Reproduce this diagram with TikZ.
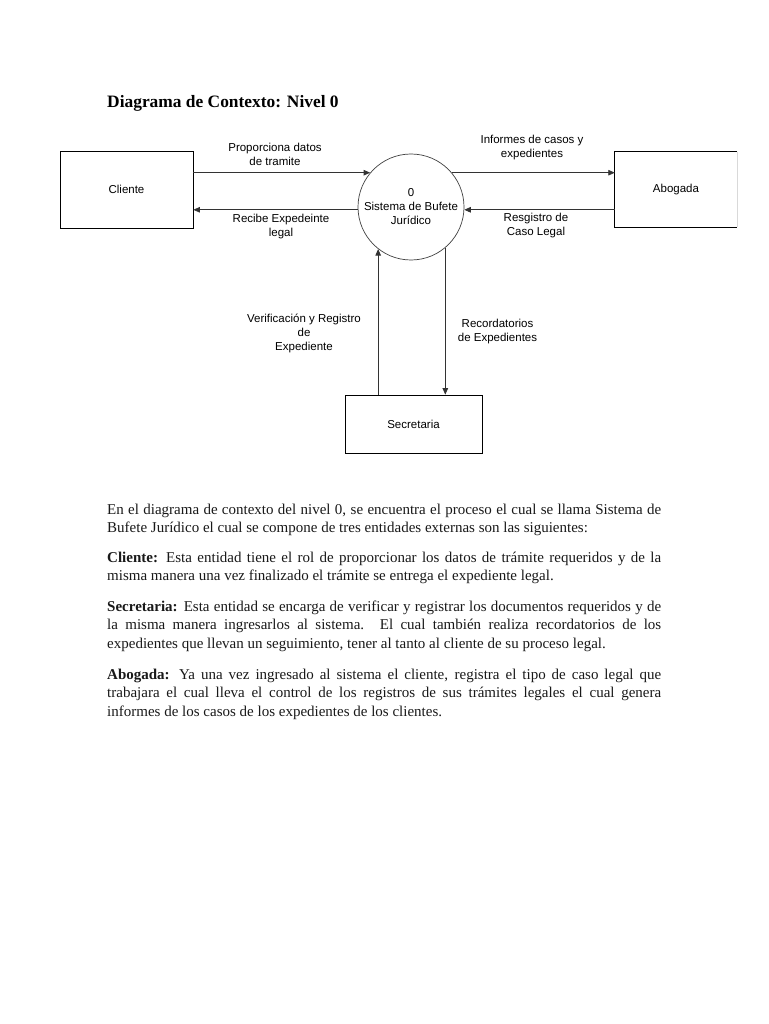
\documentclass[tikz,border=0pt]{standalone}
\usepackage{fontspec}
\setmainfont{Liberation Serif}
\newfontfamily\diafont{Liberation Sans}
\usetikzlibrary{arrows.meta}
\newcommand{\justline}[1]{\makebox[554pt][s]{#1}}
\tikzset{
  entity/.style={draw=black, line width=0.7pt, inner sep=0pt, font=\diafont\fontsize{11.5pt}{14pt}\selectfont},
  process/.style={circle, draw=black!75, line width=0.7pt, inner sep=0pt, minimum size=106pt, align=center, font=\diafont\fontsize{11.5pt}{14pt}\selectfont},
  flow/.style={draw=black!80, line width=0.8pt, -{Triangle[length=6.5pt,width=5.5pt]}},
  flowlabel/.style={align=center, inner sep=0pt, font=\diafont\fontsize{11.5pt}{14pt}\selectfont, text=black},
  bodyline/.style={anchor=base west, inner sep=0pt, font=\fontsize{15pt}{18.5pt}\selectfont, text=black!90},
}
\begin{document}
\begin{tikzpicture}[x=1pt,y=-1pt]
\useasboundingbox[fill=white] (0,0) rectangle (768,1024);

% title
\node[anchor=base west, inner sep=0pt, font=\bfseries\fontsize{17.4pt}{20pt}\selectfont] (title) at (107,108) {Diagrama de Contexto: Nivel 0};

% entities
\node[entity, minimum width=133pt, minimum height=77pt] (cliente) at (126.5,189.5) {Cliente};
\node[inner sep=0pt, minimum width=122pt, minimum height=75pt, font=\diafont\fontsize{11.5pt}{14pt}\selectfont] (abogada) at (676,189.5) {Abogada};
\draw[black, line width=0.7pt] (abogada.north east) -- (abogada.north west) -- (abogada.south west) -- (abogada.south east);
\draw[black!15, line width=0.7pt] (abogada.north east) -- (abogada.south east);
\node[entity, minimum width=137pt, minimum height=58pt] (secretaria) at (413.5,424) {Secretaria};

% process
\node[process] (proc) at (411,207) {0\\Sistema de Bufete\\Jurídico};

% flows
\draw[flow] (cliente.east |- proc.140) -- (proc.140);
\draw[flow] (proc.183) -- (cliente.east |- proc.183);
\draw[flow] (proc.40) -- (abogada.west |- proc.40);
\draw[flow] (abogada.west |- proc.-3) -- (proc.-3);
\draw[flow] (secretaria.north -| proc.232) -- (proc.232);
\draw[flow] (proc.310) -- (secretaria.north -| proc.310);

% flow labels
\node[flowlabel] (l-prop) at (275,154.5) {Proporciona datos\\de tramite};
\node[flowlabel] (l-recibe) at (281,226.5) {Recibe Expedeinte\\legal};
\node[flowlabel] (l-inf) at (532,147.5) {Informes de casos y\\expedientes};
\node[flowlabel] (l-reg) at (536,226) {Resgistro de\\Caso Legal};
\node[flowlabel] (l-ver) at (304,333.5) {Verificación y Registro\\de\\Expediente};
\node[flowlabel] (l-rec) at (497.5,332) {Recordatorios\\de Expedientes};

% body text
\node[bodyline] (b1) at (107,514) {\justline{En el diagrama de contexto del nivel 0, se encuentra el proceso el cual se llama Sistema de}};
\node[bodyline] (b2) at (107,532.5) {Bufete Jurídico el cual se compone de tres entidades externas son las siguientes:};
\node[bodyline] (b3) at (107,562) {\justline{\textbf{Cliente:} Esta entidad tiene el rol de proporcionar los datos de trámite requeridos y de la}};
\node[bodyline] (b4) at (107,580.5) {misma manera una vez finalizado el trámite se entrega el expediente legal.};
\node[bodyline] (b5) at (107,611) {\justline{\textbf{Secretaria:} Esta entidad se encarga de verificar y registrar los documentos requeridos y de}};
\node[bodyline] (b6) at (107,629.5) {\justline{la misma manera ingresarlos al sistema. El cual también realiza recordatorios de los}};
\node[bodyline] (b7) at (107,648) {expedientes que llevan un seguimiento, tener al tanto al cliente de su proceso legal.};
\node[bodyline] (b8) at (107,679) {\justline{\textbf{Abogada:} Ya una vez ingresado al sistema el cliente, registra el tipo de caso legal que}};
\node[bodyline] (b9) at (107,697.5) {\justline{trabajara el cual lleva el control de los registros de sus trámites legales el cual genera}};
\node[bodyline] (b10) at (107,716) {informes de los casos de los expedientes de los clientes.};
\end{tikzpicture}
\end{document}
